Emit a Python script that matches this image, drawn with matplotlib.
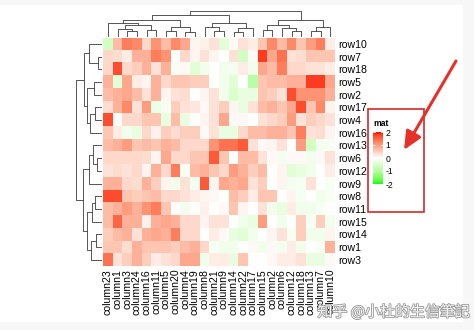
import numpy as np
import matplotlib
matplotlib.use("Agg")
import matplotlib.pyplot as plt
from matplotlib.colors import ListedColormap
from matplotlib.patches import Rectangle, FancyArrowPatch
import matplotlib.patheffects as pe

# ---------------------------------------------------------------- data
row_labels = ["row10", "row7", "row18", "row5", "row2", "row17", "row4", "row16",
              "row13", "row6", "row12", "row9", "row8", "row11", "row15", "row14",
              "row1", "row3"]
col_labels = ["column23", "column1", "column3", "column24", "column16", "column11",
              "column5", "column20", "column4", "column19", "column8", "column21",
              "column9", "column14", "column22", "column17", "column15", "column2",
              "column6", "column12", "column18", "column13", "column7", "column10"]

values = [
    [-0.6, 0.7, 1.3, 1.2, 0.4, 1.1, 0.7, 1.2, 0.9, 0.1, 0.15, 0.3, -0.4, 0.05, 0.3, 0.2, 0.6, 1.2, 0.7, 1.2, 0.6, 1.0, 1.3, 0.2],
    [0.4, 0.35, 0.2, 0.8, 0.8, 1.3, 1.1, 0.0, 0.4, 0.1, 0.3, 0.1, 0.0, 0.3, -0.6, 0.05, 1.8, 0.9, 1.4, 0.3, 0.35, 0.6, 0.6, 0.6],
    [0.4, 1.7, 0.4, 0.5, 0.8, 0.3, 0.8, -0.1, 0.05, -0.4, -0.2, 0.0, -0.2, -0.15, 0.2, -0.2, 0.9, 0.7, 1.3, 0.4, 0.4, 0.3, 0.3, 0.2],
    [0.8, -0.4, 0.9, 0.2, 0.1, 0.8, 0.4, 0.6, 0.6, 0.5, 0.5, 0.0, -0.2, -0.4, 0.0, -0.9, 0.6, 0.7, 0.7, 0.8, 0.8, 1.8, 1.8, 0.9],
    [0.7, 0.8, 0.9, 0.7, 0.3, 0.8, 0.1, 0.3, 0.35, 0.0, 0.1, 0.3, -0.2, -0.5, -0.3, -0.3, 0.6, 0.5, 0.3, 1.7, 1.1, 1.1, 1.1, 0.8],
    [0.35, 0.8, 1.2, 0.3, 1.0, -0.25, -0.1, 0.5, 0.3, 0.25, 0.05, 0.3, 0.5, 0.1, -0.3, 0.3, 0.7, 0.8, 0.6, 0.9, 1.7, 0.6, 1.2, 0.1],
    [1.7, 0.0, 0.4, 0.4, 0.6, 0.6, -0.3, 0.7, -0.3, 0.0, 0.1, 0.3, 0.9, 0.05, 0.05, 0.0, 0.3, 0.4, 0.5, 1.0, 0.3, 0.5, 0.4, 0.3],
    [0.6, 0.2, -0.2, -0.3, 0.4, 0.15, 0.5, 0.35, 0.5, 0.5, 0.05, 0.3, -0.3, -0.3, 0.4, 0.7, 0.7, 0.8, 0.8, 0.6, 1.3, 0.3, 0.35, 0.1],
    [0.7, 0.8, 1.0, 0.6, 0.7, 0.6, 0.8, 0.7, 0.4, 0.4, 0.4, 1.1, 1.4, 1.4, 1.6, 0.3, 0.05, 0.1, 0.3, 0.0, 1.0, -0.6, -0.15, -0.1],
    [0.4, 0.4, 0.4, 0.4, 0.35, 0.1, 0.9, 0.4, 0.4, 0.6, 0.6, 1.6, 0.6, 0.0, 0.7, 0.7, 0.3, 0.05, -0.15, 0.05, 0.05, -0.2, 0.05, 0.3],
    [0.3, 0.35, 0.3, 0.4, 0.1, 0.8, 0.4, 1.3, -0.1, 0.7, 0.8, 0.6, 0.4, 1.0, 0.8, 0.5, 0.7, 0.0, 0.1, -0.4, -0.3, -0.2, 0.0, 0.2],
    [0.8, 0.8, 0.4, 0.35, 0.8, 0.5, 0.1, -0.2, 0.3, -0.15, 1.6, 0.1, 0.9, 0.8, 0.9, 0.3, 0.5, 0.0, 0.1, -0.15, -0.1, 0.3, 0.0, -0.1],
    [1.7, 1.7, 0.6, 0.5, 0.6, 0.7, 0.4, 0.4, 0.3, 0.2, 0.1, 0.05, 0.0, 0.7, 0.5, 0.2, 0.6, 0.6, 0.0, 0.1, -0.1, 0.0, -0.2, -0.1],
    [0.7, 0.8, 1.0, 0.8, 1.1, 1.3, 0.6, 0.0, -0.15, 0.0, 0.15, 0.0, 0.05, 0.6, 0.1, 0.0, 0.3, -0.2, -0.3, 0.2, -0.2, -0.2, -0.1, 0.0],
    [0.7, 1.5, 0.8, 0.8, 0.15, 0.8, 0.9, 0.8, 0.4, 0.4, 0.1, 0.3, 0.3, 0.0, -0.2, -0.3, 1.0, 0.0, -0.2, 0.0, 0.5, -0.1, 0.5, -0.2],
    [0.5, 0.7, 0.8, 0.3, 0.8, 0.9, 0.8, 1.3, 0.4, 0.4, 0.0, 0.2, 0.05, -0.3, -0.4, -0.2, 0.0, 0.1, 0.3, -0.1, 0.5, -0.2, -0.2, 0.1],
    [0.6, 0.6, 0.35, 0.8, 0.6, 0.6, 0.6, 0.5, 0.7, 0.8, 0.4, -0.1, -0.2, -0.2, 0.0, 0.05, -0.2, 0.05, -0.15, 0.2, -0.2, 0.0, -0.1, 0.8],
    [1.4, 0.3, 0.5, 0.8, 0.5, 0.2, 0.3, 0.4, 0.9, 0.9, -0.2, 0.2, 0.2, -0.3, 0.6, 0.0, 0.0, 0.05, 0.2, 0.2, 0.3, -0.3, -0.3, 0.05],
]

# cluster trees: (merge height, left, right); leaves are display positions
col_tree = (10.0,
            (8.4,
             (6.4,
              (5.2, 0, (4.4, (3.0, 1, (2.0, 2, 3)), (2.6, 4, 5))),
              (3.6, (2.2, 6, 7), (1.8, 8, 9))),
             (5.2,
              (3.6, 10, (2.0, 11, 12)),
              (3.2, (1.6, 13, 14), 15))),
            (6.4,
             (4.6, (2.4, 16, 17), (3.4, 18, (2.0, 19, 20))),
             (3.8, (2.2, 21, 22), 23)))

row_tree = (10.0,
            (6.7,
             (5.0, 0, (1.4, 1, 2)),
             (5.6, (3.0, 3, 4), (4.4, (2.4, 5, 6), 7))),
            (7.2,
             (4.8, (3.2, 8, (2.0, 9, 10)), 11),
             (5.6, (3.6, (2.4, 12, 13), 14), (4.0, (2.2, 15, 16), 17))))

legend_ticks = [-2, -1, 0, 1, 2]

# ---------------------------------------------------------------- colours
def srgb_to_lab(rgb):
    rgb = np.asarray(rgb, float)
    lin = np.where(rgb <= 0.04045, rgb / 12.92, ((rgb + 0.055) / 1.055) ** 2.4)
    m = np.array([[0.4124564, 0.3575761, 0.1804375],
                  [0.2126729, 0.7151522, 0.0721750],
                  [0.0193339, 0.1191920, 0.9503041]])
    xyz = lin @ m.T / np.array([0.95047, 1.0, 1.08883])
    d = 6 / 29
    f = np.where(xyz > d ** 3, np.cbrt(xyz), xyz / (3 * d * d) + 4 / 29)
    return np.stack([116 * f[..., 1] - 16,
                     500 * (f[..., 0] - f[..., 1]),
                     200 * (f[..., 1] - f[..., 2])], -1)


def lab_to_srgb(lab):
    lab = np.asarray(lab, float)
    fy = (lab[..., 0] + 16) / 116
    fx = fy + lab[..., 1] / 500
    fz = fy - lab[..., 2] / 200
    f = np.stack([fx, fy, fz], -1)
    d = 6 / 29
    xyz = np.where(f > d, f ** 3, 3 * d * d * (f - 4 / 29)) * np.array([0.95047, 1.0, 1.08883])
    minv = np.array([[3.2404542, -1.5371385, -0.4985314],
                     [-0.9692660, 1.8760108, 0.0415560],
                     [0.0556434, -0.2040259, 1.0572252]])
    lin = np.clip(xyz @ minv.T, 0, 1)
    rgb = np.where(lin <= 0.0031308, lin * 12.92, 1.055 * lin ** (1 / 2.4) - 0.055)
    return np.clip(rgb, 0, 1)


anchors = srgb_to_lab([[0, 1, 0], [1, 1, 1], [1, 0, 0]])
t = np.linspace(-2, 2, 256)
lab = np.stack([np.interp(t, [-2, 0, 2], anchors[:, k]) for k in range(3)], -1)
cmap = ListedColormap(lab_to_srgb(lab))

# ---------------------------------------------------------------- figure
W, H = 474, 330
fig = plt.figure(figsize=(W / 100, H / 100), dpi=100)
fig.patch.set_facecolor("#f7f7f7")
plt.rcParams["font.family"] = ["Liberation Sans", "DejaVu Sans"]


def frame(x0, y0, x1, y1):
    """axes rectangle from pixel bounds (origin top-left)"""
    return [x0 / W, 1 - y1 / H, (x1 - x0) / W, (y1 - y0) / H]


# white page behind the plot
fig.add_artist(Rectangle((0, 1 - 322 / H), 463 / W, 317 / H, transform=fig.transFigure,
                         facecolor="white", edgecolor="none", zorder=-10))

hx0, hx1, hy0, hy1 = 103, 335, 37.6, 266
ax = fig.add_axes(frame(hx0, hy0, hx1, hy1))
mat = np.array(values)
ax.imshow(mat, cmap=cmap, vmin=-2, vmax=2, aspect="auto", interpolation="nearest")
ax.set_xlim(-0.5, len(col_labels) - 0.5)
ax.set_ylim(len(row_labels) - 0.5, -0.5)
ax.set_xticks(range(len(col_labels)))
ax.set_xticklabels(col_labels, rotation=90, fontsize=7.6, va="top")
ax.set_yticks(range(len(row_labels)))
ax.set_yticklabels(row_labels, fontsize=7.6)
ax.yaxis.tick_right()
ax.tick_params(length=0, pad=2)
for s in ax.spines.values():
    s.set_visible(False)


def draw_tree(axis, node, orient):
    if isinstance(node, int):
        return node, 0.0
    h, left, right = node
    pl, hl = draw_tree(axis, left, orient)
    pr, hr = draw_tree(axis, right, orient)
    xs = [pl, pl, pr, pr]
    ys = [hl, h, h, hr]
    if orient == "top":
        axis.plot(xs, ys, color="#3a3a3a", lw=0.6, solid_capstyle="butt")
    else:
        axis.plot(ys, xs, color="#3a3a3a", lw=0.6, solid_capstyle="butt")
    return (pl + pr) / 2, h


axc = fig.add_axes(frame(hx0, 11, hx1, 36.5))
draw_tree(axc, col_tree, "top")
axc.set_xlim(-0.5, len(col_labels) - 0.5)
axc.set_ylim(0, 10)
axc.axis("off")

axr = fig.add_axes(frame(75.7, hy0, 101.7, hy1))
draw_tree(axr, row_tree, "left")
axr.set_xlim(10, 0)
axr.set_ylim(len(row_labels) - 0.5, -0.5)
axr.axis("off")

# ---------------------------------------------------------------- legend
fig.text(373 / W, 1 - 123 / H, "mat", fontsize=6.2, fontweight="bold",
         ha="left", va="center")
axl = fig.add_axes(frame(373, 132, 383, 184))
grad = np.linspace(2, -2, 200).reshape(-1, 1)
axl.imshow(grad, cmap=cmap, vmin=-2, vmax=2, aspect="auto",
           extent=[0, 1, -2, 2], interpolation="bilinear")
axl.set_xlim(0, 1)
axl.set_ylim(-2, 2)
axl.set_xticks([])
axl.set_yticks(legend_ticks)
axl.set_yticklabels([str(v) for v in legend_ticks], fontsize=6.2)
axl.yaxis.tick_right()
axl.tick_params(axis="y", length=0, pad=2)
for v in legend_ticks:
    axl.plot([0, 0.18], [v, v], color="white", lw=0.6)
    axl.plot([0.82, 1], [v, v], color="white", lw=0.6)
for s in axl.spines.values():
    s.set_visible(False)

# ---------------------------------------------------------------- callout
box = Rectangle((368 / W, 1 - 212 / H), 56 / W, 103 / H, transform=fig.transFigure,
                fill=False, edgecolor="#d42a2a", lw=1.2)
fig.add_artist(box)
arrow = FancyArrowPatch((456 / W, 1 - 61 / H), (404 / W, 1 - 150 / H),
                        transform=fig.transFigure,
                        arrowstyle="-|>,head_length=0.55,head_width=0.25",
                        mutation_scale=20, color="#e8302a", lw=2.2,
                        shrinkA=0, shrinkB=0)
fig.add_artist(arrow)

fig.text(470 / W, 1 - 312 / H, "知乎 @小杜的生信筆記", fontsize=10.8, ha="right", va="center",
         color="#f4f4f4", family=["Noto Sans CJK SC", "DejaVu Sans"],
         path_effects=[pe.withStroke(linewidth=1.2, foreground="#9a9a9a")])

fig.savefig("out.png", dpi=100, facecolor=fig.get_facecolor())
